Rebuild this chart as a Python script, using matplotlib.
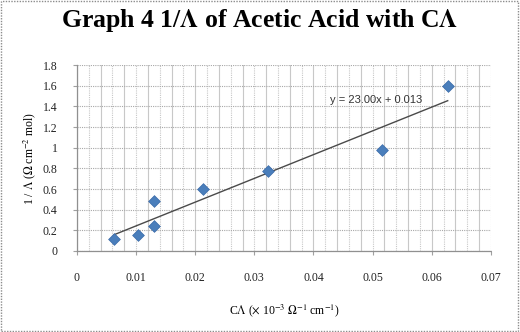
import numpy as np
import matplotlib
matplotlib.use("Agg")
import matplotlib.pyplot as plt
from matplotlib.patches import Rectangle

plt.rcParams['font.family'] = ['Liberation Serif', 'DejaVu Serif']
plt.rcParams['mathtext.fontset'] = 'stix'

# Concentration × molar conductivity and reciprocal molar conductivity
c_lambda = [0.0063, 0.0103, 0.0131, 0.0131, 0.0213, 0.0323, 0.0516, 0.0627]
inv_lambda = [0.12, 0.155, 0.245, 0.484, 0.597, 0.775, 0.978, 1.60]

# Linear trend line
slope = 23.00
intercept = 0.013
x_ticks = [0, 0.01, 0.02, 0.03, 0.04, 0.05, 0.06, 0.07]
x_tick_labels = ['0', '0.01', '0.02', '0.03', '0.04', '0.05', '0.06', '0.07']
y_ticks = [0, 0.2, 0.4, 0.6, 0.8, 1.0, 1.2, 1.4, 1.6, 1.8]
y_tick_labels = ['0', '0.2', '0.4', '0.6', '0.8', '1', '1.2', '1.4', '1.6', '1.8']

fig = plt.figure(figsize=(5.2, 3.32), dpi=100)
ax = fig.add_axes([0.148, 0.244, 0.796, 0.560])

# dotted outer frame of the chart
fig.patches.append(Rectangle((0.002, 0.003), 0.994, 0.994, transform=fig.transFigure,
                             fill=False, edgecolor='#8c8c8c', linestyle=(0, (1, 1)),
                             linewidth=1.0))

ax.set_xlim(0, 0.07)
ax.set_ylim(0, 1.8)

# grid
for xv in np.arange(0, 0.0701, 0.002):
    ax.axvline(xv, color='#c8c8c8', linewidth=0.8, linestyle=(0, (1, 1)) if round(xv / 0.002) % 2 else '-', zorder=0)
for yv in y_ticks:
    ax.axhline(yv, color='#a8a8a8', linewidth=0.8, linestyle=(0, (1, 1)), zorder=0)

ax.scatter(c_lambda, inv_lambda, marker='D', s=36, color='#4a7ebb',
           edgecolor='#3a6aa8', linewidth=0.5, zorder=3)

xl = np.array([min(c_lambda), max(c_lambda)])
ax.plot(xl, slope * xl + intercept, color='#4a4a4a', linewidth=1.0, zorder=2)
ax.text(0.0428, 1.46, f'y = {slope:.2f}x + {intercept:.3f}', fontsize=8,
        family=['Liberation Sans'], color='#333333', va='center', ha='left')

ax.set_xticks(x_ticks)
ax.set_xticklabels(x_tick_labels)
ax.set_yticks(y_ticks)
ax.set_yticklabels(y_tick_labels)
ax.tick_params(axis='both', labelsize=8.5, length=3, color='#a0a0a0', labelcolor='#222222')
ax.tick_params(axis='x', pad=12)
ax.tick_params(axis='y', pad=11)

for side in ['top', 'right']:
    ax.spines[side].set_visible(False)
for side in ['left', 'bottom']:
    ax.spines[side].set_color('#909090')
    ax.spines[side].set_linestyle((0, (1, 1)))
    ax.spines[side].set_linewidth(0.9)

ax.set_xlabel(r'C$\Lambda$ ($\times$ 10$^{-3}$ $\Omega^{-1}$ cm$^{-1}$)', fontsize=8.5, labelpad=13)
ax.set_ylabel(r'1 / $\Lambda$ ($\Omega$ cm$^{-2}$ mol)', fontsize=8.5, labelpad=3)

fig.text(0.50, 0.937, r'Graph 4 1/$\mathbf{\Lambda}$ of Acetic Acid with C$\mathbf{\Lambda}$',
         ha='center', va='center', fontsize=18.5, fontweight='bold')

fig.savefig('out.png', dpi=100)
